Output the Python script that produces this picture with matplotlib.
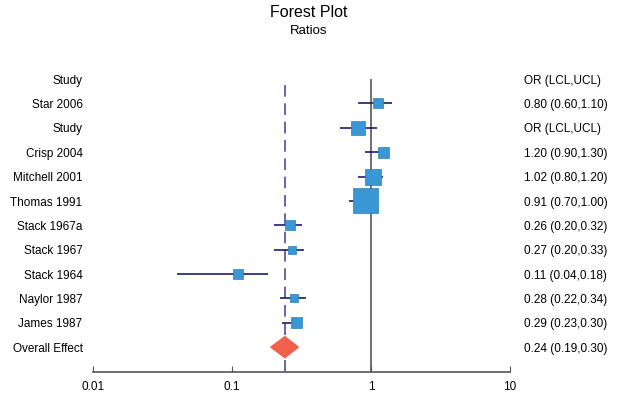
import numpy as np
import matplotlib.pyplot as plt
from matplotlib.patches import Polygon

plt.rcParams['font.family'] = ['Liberation Sans', 'DejaVu Sans']

labels = ["Study", "Star 2006", "Study", "Crisp 2004", "Mitchell 2001", "Thomas 1991",
          "Stack 1967a", "Stack 1967", "Stack 1964", "Naylor 1987", "James 1987", "Overall Effect"]
ci_text = ["OR (LCL,UCL)", "0.80 (0.60,1.10)", "OR (LCL,UCL)", "1.20 (0.90,1.30)",
           "1.02 (0.80,1.20)", "0.91 (0.70,1.00)", "0.26 (0.20,0.32)", "0.27 (0.20,0.33)",
           "0.11 (0.04,0.18)", "0.28 (0.22,0.34)", "0.29 (0.23,0.30)", "0.24 (0.19,0.30)"]

# marks as drawn (rows 1..10)
est = [1.12, 0.81, 1.22, 1.03, 0.92, 0.26, 0.27, 0.11, 0.28, 0.29]
lo = [0.80, 0.60, 0.90, 0.80, 0.70, 0.20, 0.20, 0.04, 0.22, 0.23]
hi = [1.41, 1.11, 1.32, 1.21, 1.00, 0.32, 0.33, 0.18, 0.34, 0.30]
box_px = [10, 14, 11, 16, 25, 10, 8, 10, 8, 11]

overall = 0.24
overall_lo = 0.19
overall_hi = 0.30

fig = plt.figure(figsize=(6.18, 3.94), dpi=100)
ax = fig.add_axes([0.1505, 0.0558, 0.6748, 0.8056])

rows = np.arange(1, 11)
ax.hlines(rows, lo, hi, color="#1c1c6b", lw=1.2, zorder=2)
ax.scatter(est, rows, marker="s", s=[(w * 0.72) ** 2 for w in box_px],
           color="#3a97d4", edgecolor="#2a80bb", lw=0.5, zorder=3)

ax.vlines(1, 0, 12.05, color="#555555", lw=1.2, zorder=1)
ax.vlines(overall, 0.25, 12.05, color="#4a4aa8", lw=1.2, linestyles=(0, (7, 4)), zorder=1)

d = 0.43
ax.add_patch(Polygon([(overall_lo, 11), (overall, 11 - d), (overall_hi, 11), (overall, 11 + d)],
                     closed=True, color="#f0604c", zorder=4))

ax.set_xscale("log")
ax.set_xlim(0.01, 10)
ax.set_ylim(12.02, -1)
ax.set_xticks([0.01, 0.1, 1, 10])
ax.set_xticklabels(["0.01", "0.1", "1", "10"])
ax.minorticks_off()
ax.tick_params(axis="x", direction="in", length=4, labelsize=8.5, color="#555555", pad=6.5)
ax.set_yticks([])
for s in ["top", "left", "right"]:
    ax.spines[s].set_visible(False)
ax.spines["bottom"].set_color("#555555")
ax.spines["bottom"].set_linewidth(1.2)

for i, (lab, txt) in enumerate(zip(labels, ci_text)):
    ax.annotate(lab, xy=(0, i), xycoords=("axes fraction", "data"), xytext=(-7.5, -1.2),
                textcoords="offset points", ha="right", va="center", fontsize=8.5)
    ax.annotate(txt, xy=(1, i), xycoords=("axes fraction", "data"), xytext=(10, -1.2),
                textcoords="offset points", ha="left", va="center", fontsize=8.5)

fig.text(0.5, 0.968, "Forest Plot", ha="center", va="center", fontsize=11.5)
fig.text(0.5, 0.922, "Ratios", ha="center", va="center", fontsize=9.5)

fig.savefig("out.png", dpi=100)
